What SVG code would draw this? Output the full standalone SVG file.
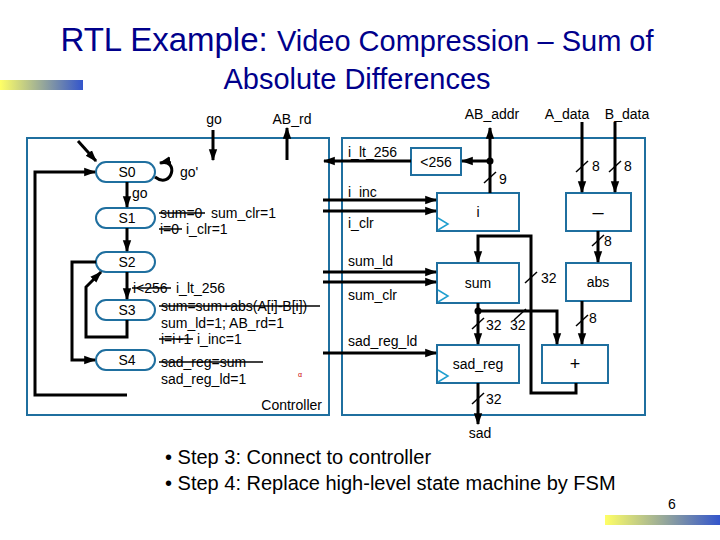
<svg xmlns="http://www.w3.org/2000/svg" width="720" height="540" viewBox="0 0 720 540">
<defs>
<marker id="ah" viewBox="0 0 10 10" refX="9" refY="5" markerWidth="4" markerHeight="4" orient="auto-start-reverse" markerUnits="strokeWidth"><path d="M0,1.5 L10,5 L0,8.5 z" fill="#000"/></marker>
<linearGradient id="gb" x1="0" x2="1"><stop offset="0" stop-color="#ffff66"/><stop offset="1" stop-color="#3355cc"/></linearGradient>
</defs>
<style>
text{font-family:"Liberation Sans",Arial,sans-serif;font-size:14px;fill:#000}
.blk{fill:none;stroke:#1f6f9f;stroke-width:2}
.box{fill:#fff;stroke:#1f6f9f;stroke-width:2}
.w{fill:none;stroke:#000;stroke-width:3}
.a{marker-end:url(#ah)}
.st{stroke:#000;stroke-width:1.5}
.c{text-anchor:middle}
.clk{fill:none;stroke:#1f9fcf;stroke-width:1.5}
</style>
<rect width="720" height="540" fill="#fff"/>
<rect x="0" y="80" width="83" height="10" fill="url(#gb)"/>
<rect x="605" y="515" width="115" height="10" fill="url(#gb)"/>
<text x="357" y="51" class="c" style="font-size:29px;fill:#00008b"><tspan style="font-size:33px">RTL Example: </tspan>Video Compression – Sum of</text>
<text x="357" y="89" class="c" style="font-size:29px;fill:#00008b">Absolute Differences</text>

<g id="controller">
<rect class="blk" x="27" y="138" width="302" height="277"/>
<text x="322" y="410" text-anchor="end">Controller</text>
<text x="298" y="377" style="font-size:7px;fill:#c00">α</text>
</g>
<g id="datapath"><rect class="blk" x="342" y="138" width="303" height="277"/></g>

<g id="S0"><rect class="box" x="96" y="162" width="59" height="20" rx="10"/><text x="127" y="177" class="c">S0</text></g>
<g id="S1"><rect class="box" x="96" y="208" width="59" height="20" rx="10"/><text x="127" y="223" class="c">S1</text></g>
<g id="S2"><rect class="box" x="96" y="252" width="59" height="20" rx="10"/><text x="127" y="267" class="c">S2</text></g>
<g id="S3"><rect class="box" x="96" y="300" width="59" height="20" rx="10"/><text x="127" y="315" class="c">S3</text></g>
<g id="S4"><rect class="box" x="96" y="350" width="59" height="20" rx="10"/><text x="127" y="365" class="c">S4</text></g>

<g id="reg_lt"><rect class="box" x="411" y="148" width="50" height="27"/><text x="436" y="167" class="c">&lt;256</text></g>
<g id="reg_i"><rect class="box" x="437" y="193" width="82" height="38"/><text x="478" y="217" class="c">i</text><path class="clk" d="M438,218 L448,224 L438,230"/></g>
<g id="reg_sum"><rect class="box" x="437" y="263" width="82" height="40"/><text x="478" y="288" class="c">sum</text><path class="clk" d="M438,290 L448,296 L438,302"/></g>
<g id="reg_sad"><rect class="box" x="437" y="345" width="82" height="38"/><text x="478" y="369" class="c">sad_reg</text><path class="clk" d="M438,370 L448,376 L438,382"/></g>
<g id="sub"><rect class="box" x="566" y="193" width="65" height="38"/><text x="598" y="219" class="c" style="font-size:20px">–</text></g>
<g id="abs"><rect class="box" x="566" y="263" width="65" height="38"/><text x="598" y="287" class="c">abs</text></g>
<g id="add"><rect class="box" x="542" y="345" width="66" height="38"/><text x="575" y="370" class="c" style="font-size:18px">+</text></g>

<g id="connectors">
<path class="w a" d="M78,141 L96,161"/>
<path class="w a" d="M127,395 L35,395 L35,172 L95,172"/>
<path class="w a" d="M155,177 C172,190 180,158 160,163"/>
<path class="w a" d="M127,182 L127,207"/>
<path class="w a" d="M127,228 L127,251"/>
<path class="w a" d="M127,272 L127,299"/>
<path class="w a" d="M127,320 L127,337 L86,337 L86,287 L101,272"/>
<path class="w a" d="M96,262 L72,262 L72,360 L95,360"/>
<path class="w a" d="M213,130 L213,160"/>
<path class="w a" d="M287,160 L287,128"/>
<path class="w a" d="M411,161 L324,161"/>
<path class="w a" d="M323,200 L436,200"/>
<path class="w a" d="M323,211 L436,211"/>
<path class="w a" d="M323,272 L436,272"/>
<path class="w a" d="M323,282 L436,282"/>
<path class="w a" d="M323,353 L436,353"/>
<path class="w a" d="M490,193 L490,128"/>
<path class="w a" d="M490,161 L462,161"/>
<circle cx="490" cy="161" r="3.5"/>
<path class="w a" d="M582,122 L582,192"/>
<path class="w a" d="M615,122 L615,192"/>
<path class="w a" d="M598,231 L598,262"/>
<path class="w a" d="M582,301 L582,344"/>
<path class="w a" d="M478,303 L478,344"/>
<circle cx="478" cy="311" r="3.5"/>
<path class="w a" d="M478,311 L557,311 L557,344"/>
<path class="w a" d="M576,383 L576,393 L531,393 L531,236 L478,236 L478,262"/>
<path class="w a" d="M478,383 L478,424"/>
<g class="st">
<path d="M484,183 L496,172"/><path d="M576,172 L588,161"/><path d="M609,172 L621,161"/>
<path d="M592,246 L604,235"/><path d="M576,326 L588,315"/><path d="M472,329 L484,318"/>
<path d="M514,320 L526,309"/><path d="M525,283 L537,272"/><path d="M472,404 L484,393"/>
</g>
</g>

<g id="labels">
<text x="214" y="124" class="c">go</text>
<text x="292" y="124" class="c">AB_rd</text>
<text x="492" y="119" class="c">AB_addr</text>
<text x="567" y="119" class="c">A_data</text>
<text x="627" y="119" class="c">B_data</text>
<text x="180" y="177">go'</text>
<text x="132" y="198">go</text>
<text x="160" y="218">sum=0</text><path class="st" d="M159,213 L205,213"/><text x="211" y="218">sum_clr=1</text>
<text x="160" y="234">i=0</text><path class="st" d="M159,229 L182,229"/><text x="186" y="234">i_clr=1</text>
<text x="133" y="293">i&lt;256</text><path class="st" d="M132,288 L171,288"/><text x="176" y="293">i_lt_256</text>
<text x="161" y="311">sum=sum+abs(A[i]-B[i])</text><path class="st" d="M159,306 L320,306"/>
<text x="161" y="328">sum_ld=1; AB_rd=1</text>
<text x="161" y="344">i=i+1</text><path class="st" d="M159,339 L193,339"/><text x="197" y="344">i_inc=1</text>
<text x="161" y="367">sad_reg=sum</text><path class="st" d="M159,362 L263,362"/>
<text x="161" y="384">sad_reg_ld=1</text>
<text x="348" y="157">i_lt_256</text>
<text x="348" y="197">i_inc</text>
<text x="348" y="228">i_clr</text>
<text x="348" y="266">sum_ld</text>
<text x="348" y="300">sum_clr</text>
<text x="348" y="346">sad_reg_ld</text>
<text x="499" y="184">9</text>
<text x="592" y="171">8</text><text x="624" y="171">8</text>
<text x="604" y="246">8</text><text x="589" y="323">8</text>
<text x="486" y="330">32</text><text x="510" y="330">32</text>
<text x="541" y="283">32</text><text x="486" y="404">32</text>
<text x="480" y="438" class="c">sad</text>
<text x="165" y="464" style="font-size:20px">•  Step 3: Connect to controller</text>
<text x="165" y="490" style="font-size:20px">•  Step 4: Replace high-level state machine by FSM</text>
<text x="672" y="509" class="c">6</text>
</g>
</svg>
